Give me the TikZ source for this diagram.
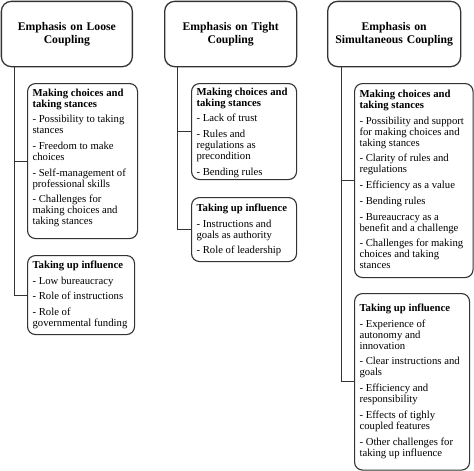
\documentclass[tikz,border=0pt]{standalone}
\usepackage{fontspec}
\setmainfont{Liberation Serif}
\newcommand\boxtext[4]{\parbox[t][#2][t]{#1}{\raggedright\rule{0pt}{#3}\ignorespaces#4}}
\newcommand\headfont{\fontsize{11.7}{12.8}\selectfont\bfseries}
\newcommand\subfont{\fontsize{10.7}{11}\selectfont}
\begin{document}
\begin{tikzpicture}[x=1pt,y=-1pt,
  head/.style={draw=black!80, line width=1.3pt, rounded corners=10pt, anchor=north west,
    align=center, font=\headfont, inner sep=0pt, minimum height=65.3pt},
  sub/.style={draw=black!80, line width=1.1pt, rounded corners=8pt, anchor=north west,
    inner xsep=5pt, inner ysep=0pt, font=\subfont},
  conn/.style={draw=black!80, line width=1pt}]
\useasboundingbox[fill=white] (0,0) rectangle (474,471);

% headers
\node[head, minimum width=131pt, text width=125pt] (h1) at (0.7,0.7) {Emphasis on Loose\\Coupling};
\node[head, minimum width=132pt, text width=126pt] (h2) at (164,0.7) {Emphasis on Tight\\Coupling};
\node[head, minimum width=133pt, text width=127pt] (h3) at (327,0.7) {Emphasis on\\Simultaneous Coupling};

% column 1
\node[sub] (s11) at (27,83) {\boxtext{100pt}{155pt}{12.5pt}{%
\textbf{Making choices and}\\\textbf{taking stances}\\[4.7pt]
- Possibility to taking\\stances\\[4.7pt]
- Freedom to make\\choices\\[4.7pt]
- Self-management of\\professional skills\\[4.7pt]
- Challenges for\\making choices and\\taking stances}};
\node[sub] (s12) at (27,255) {\boxtext{97pt}{79pt}{13pt}{%
\textbf{Taking up influence}\\[4.7pt]
- Low bureaucracy\\[4.7pt]
- Role of instructions\\[4.7pt]
- Role of\\governmental funding}};

% column 2
\node[sub] (s21) at (191,83) {\boxtext{95pt}{96pt}{11.5pt}{%
\textbf{Making choices and}\\\textbf{taking stances}\\[4.7pt]
- Lack of trust\\[4.7pt]
- Rules and\\regulations as\\precondition\\[4.7pt]
- Bending rules}};
\node[sub] (s22) at (191,197) {\boxtext{95pt}{64pt}{14pt}{%
\textbf{Taking up influence}\\[4.7pt]
- Instructions and\\goals as authority\\[4.7pt]
- Role of leadership}};

% column 3
\node[sub] (s31) at (354,83) {\boxtext{108.5pt}{194pt}{14pt}{%
\textbf{Making choices and}\\\textbf{taking stances}\\[4.7pt]
- Possibility and support\\for making choices and\\taking stances\\[4.7pt]
- Clarity of rules and\\regulations\\[4.7pt]
- Efficiency as a value\\[4.7pt]
- Bending rules\\[4.7pt]
- Bureaucracy as a\\benefit and a challenge\\[4.7pt]
- Challenges for making\\choices and taking\\stances}};
\node[sub] (s32) at (354,293) {\boxtext{105pt}{176.5pt}{18pt}{%
\textbf{Taking up influence}\\[4.7pt]
- Experience of\\autonomy and\\innovation\\[4.7pt]
- Clear instructions and\\goals\\[4.7pt]
- Efficiency and\\responsibility\\[4.7pt]
- Effects of tighly\\coupled features\\[4.7pt]
- Other challenges for\\taking up influence}};

% connectors
\draw[conn] ([xshift=13.3pt]h1.south west) |- (s12.west);
\draw[conn] ([xshift=13.3pt]h1.south west) |- (s11.west);
\draw[conn] ([xshift=13pt]h2.south west) |- (s22.west);
\draw[conn] ([xshift=13pt]h2.south west) |- (s21.west);
\draw[conn] ([xshift=14pt]h3.south west) |- (s32.west);
\draw[conn] ([xshift=14pt]h3.south west) |- (s31.west);
\end{tikzpicture}
\end{document}
